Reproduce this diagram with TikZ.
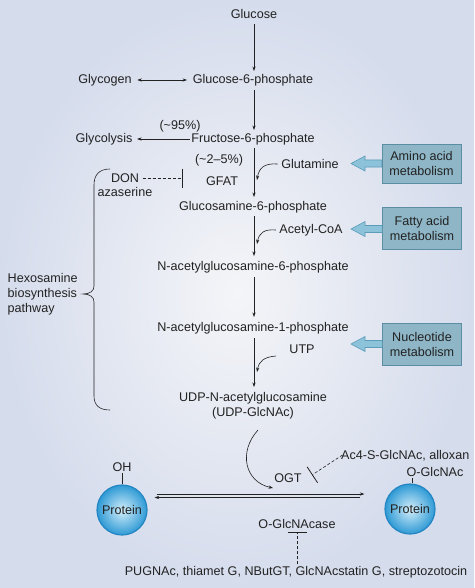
\documentclass[tikz,border=0pt]{standalone}
\usepackage{fontspec}
\setmainfont{Liberation Sans}
\usetikzlibrary{arrows.meta}
\definecolor{txt}{HTML}{222222}
\definecolor{bgout}{HTML}{D5DCEC}
\definecolor{bgin}{HTML}{F4F5F8}
\definecolor{boxfill}{HTML}{8EB6C7}
\definecolor{boxline}{HTML}{5B8DA3}
\definecolor{barrfill}{HTML}{8CC3DA}
\definecolor{barrline}{HTML}{5C9CB8}
\definecolor{protin}{HTML}{D4EEFA}
\definecolor{protout}{HTML}{2E9AD5}
\definecolor{protline}{HTML}{2386C2}
\tikzset{
  lbl/.style={font=\fontsize{12.6}{15}\selectfont, text=txt, inner sep=1.5pt},
  metab/.style={lbl, align=center},
  box/.style={draw=boxline, fill=boxfill, line width=0.8pt, align=center, minimum width=79pt, minimum height=42pt, font=\fontsize{12.6}{15}\selectfont, text=txt, inner sep=1pt},
  flow/.style={draw=txt, line width=0.6pt, -{Stealth[length=4.5pt,width=3.2pt]}},
  flowboth/.style={draw=txt, line width=0.6pt, {Stealth[length=4.5pt,width=3.2pt]}-{Stealth[length=4.5pt,width=3.2pt]}},
  inhib/.style={draw=txt, line width=0.6pt, dashed, dash pattern=on 3pt off 2pt, -{Bar[width=19pt,line width=0.8pt]}},
  barr/.style={draw=barrline, fill=barrfill, line width=0.6pt},
  prot/.style={circle, minimum size=50pt, inner sep=0pt, inner color=protin, outer color=protout, draw=protline, line width=1.2pt, font=\fontsize{12.6}{15}\selectfont, text=txt},
}
\begin{document}
\begin{tikzpicture}[x=1pt,y=-1pt]
\useasboundingbox (0,0) rectangle (474,588);
\shade[inner color=bgin, outer color=bgout] (0,0) rectangle (474,588);

% main pathway nodes
\node[lbl] (glc) at (254,14) {Glucose};
\node[lbl] (g6p) at (253,80) {Glucose-6-phosphate};
\node[lbl] (glycogen) at (105,80) {Glycogen};
\node[lbl] (f6p) at (253,139) {Fructose-6-phosphate};
\node[lbl] (glycolysis) at (104,139) {Glycolysis};
\node[lbl] (p95) at (180,126) {(\textasciitilde95\%)};
\node[lbl] (p25) at (219,160) {(\textasciitilde2--5\%)};
\node[lbl] (gfat) at (222,181) {GFAT};
\node[lbl] (gln) at (310,164) {Glutamine};
\node[lbl] (don) at (125,178) {DON};
\node[lbl] (aza) at (125,192) {azaserine};
\node[lbl] (gln6p) at (253,207) {Glucosamine-6-phosphate};
\node[lbl] (acoa) at (311,230) {Acetyl-CoA};
\node[lbl] (nag6p) at (253,267) {N-acetylglucosamine-6-phosphate};
\node[lbl] (nag1p) at (253,328) {N-acetylglucosamine-1-phosphate};
\node[lbl] (utp) at (302,349) {UTP};
\node[metab] (udp) at (253,406) {UDP-N-acetylglucosamine\\(UDP-GlcNAc)};

% metabolism boxes
\node[box, minimum height=39pt] (amino) at (421.5,163.5) {Amino acid\\metabolism};
\node[box] (fatty) at (422,228.5) {Fatty acid\\metabolism};
\node[box] (nucl) at (422,344.5) {Nucleotide\\metabolism};

% block arrows
\foreach \b/\yy in {amino/163.5, fatty/229, nucl/344} {
  \draw[barr] (\b.west |- 0,\yy-3.5) -- (365,\yy-3.5) -- (365,\yy-7.5) -- (351,\yy) -- (365,\yy+7.5) -- (365,\yy+3.5) -- (\b.west |- 0,\yy+3.5) -- cycle;
}

% main vertical arrows
\draw[flow] (254,24) -- (254,71);
\draw[flow] (254,90) -- (254,130);
\draw[flow] (254,148) -- (254,197);
\draw[flow] (254,216) -- (254,256);
\draw[flow] (254,277) -- (254,317);
\draw[flow] (254,338) -- (254,387);

% side arrows
\draw[flowboth] ([xshift=4pt]glycogen.east) -- ([xshift=-4pt]g6p.west);
\draw[flow] (f6p.west) -- ([xshift=3pt]glycolysis.east);

% cofactor curved arrows
\coordinate (c1) at (257,180);
\coordinate (c2) at (257,244);
\coordinate (c3) at (257,372);
\draw[flow] ([xshift=-2pt]gln.west) .. controls (264,163) and (259,168) .. (c1);
\draw[flow] ([xshift=-2pt]acoa.west) .. controls (264,229) and (259,233) .. (c2);
\draw[flow] (276,356) .. controls (264,357) and (259,361) .. (c3);

% inhibitor of GFAT
\draw[inhib] ([xshift=2pt]don.east) -- (183,178);

% brace
\draw[txt, line width=0.6pt] (110,169) .. controls (99,169) and (94,175) .. (94,185) -- (94,286)
  .. controls (94,291) and (90,294) .. (83,294)
  .. controls (90,294) and (94,297) .. (94,302) -- (94,396)
  .. controls (94,405) and (99,410) .. (110,410);
\node[lbl, align=left, anchor=west] (hex) at (6,294) {Hexosamine\\biosynthesis\\pathway};

% bottom part
\node[prot] (pl) at (122,510) {Protein};
\node[prot] (pr) at (410,509) {Protein};
\node[lbl] (oh) at (122,467) {OH};
\node[lbl] (og) at (435,472) {O-GlcNAc};
\draw[txt, line width=0.8pt] (oh.south) -- (pl.north);
\draw[txt, line width=0.8pt] ([xshift=2pt]og.south -| pr.north) -- ([xshift=2pt]pr.north);

\node[lbl] (ogt) at (288,478) {OGT};
\node[lbl, anchor=east] (ac4) at (471,456) {Ac4-S-GlcNAc, alloxan};
\node[lbl] (oga) at (297,524) {O-GlcNAcase};
\node[lbl] (pug) at (296,572) {PUGNAc, thiamet G, NButGT, GlcNAcstatin G, streptozotocin};

% equilibrium
\draw[flow] ([xshift=9pt]pl.east |- 0,494) -- ([xshift=-20pt]pr.west |- 0,494);
\draw[flow] ([xshift=-24pt]pr.west |- 0,497.5) -- ([xshift=7pt]pl.east |- 0,497.5);

% OGT arrow
\coordinate (o1) at (258,430);
\coordinate (o2) at (273,488);
\draw[flow] (o1) .. controls (238,452) and (245,482) .. (o2);

\draw[inhib] ([xshift=3pt,yshift=1pt]ac4.west) -- (312,475);
\draw[inhib] (pug.north -| oga) -- ([yshift=-2pt]oga.south);
\end{tikzpicture}
\end{document}
